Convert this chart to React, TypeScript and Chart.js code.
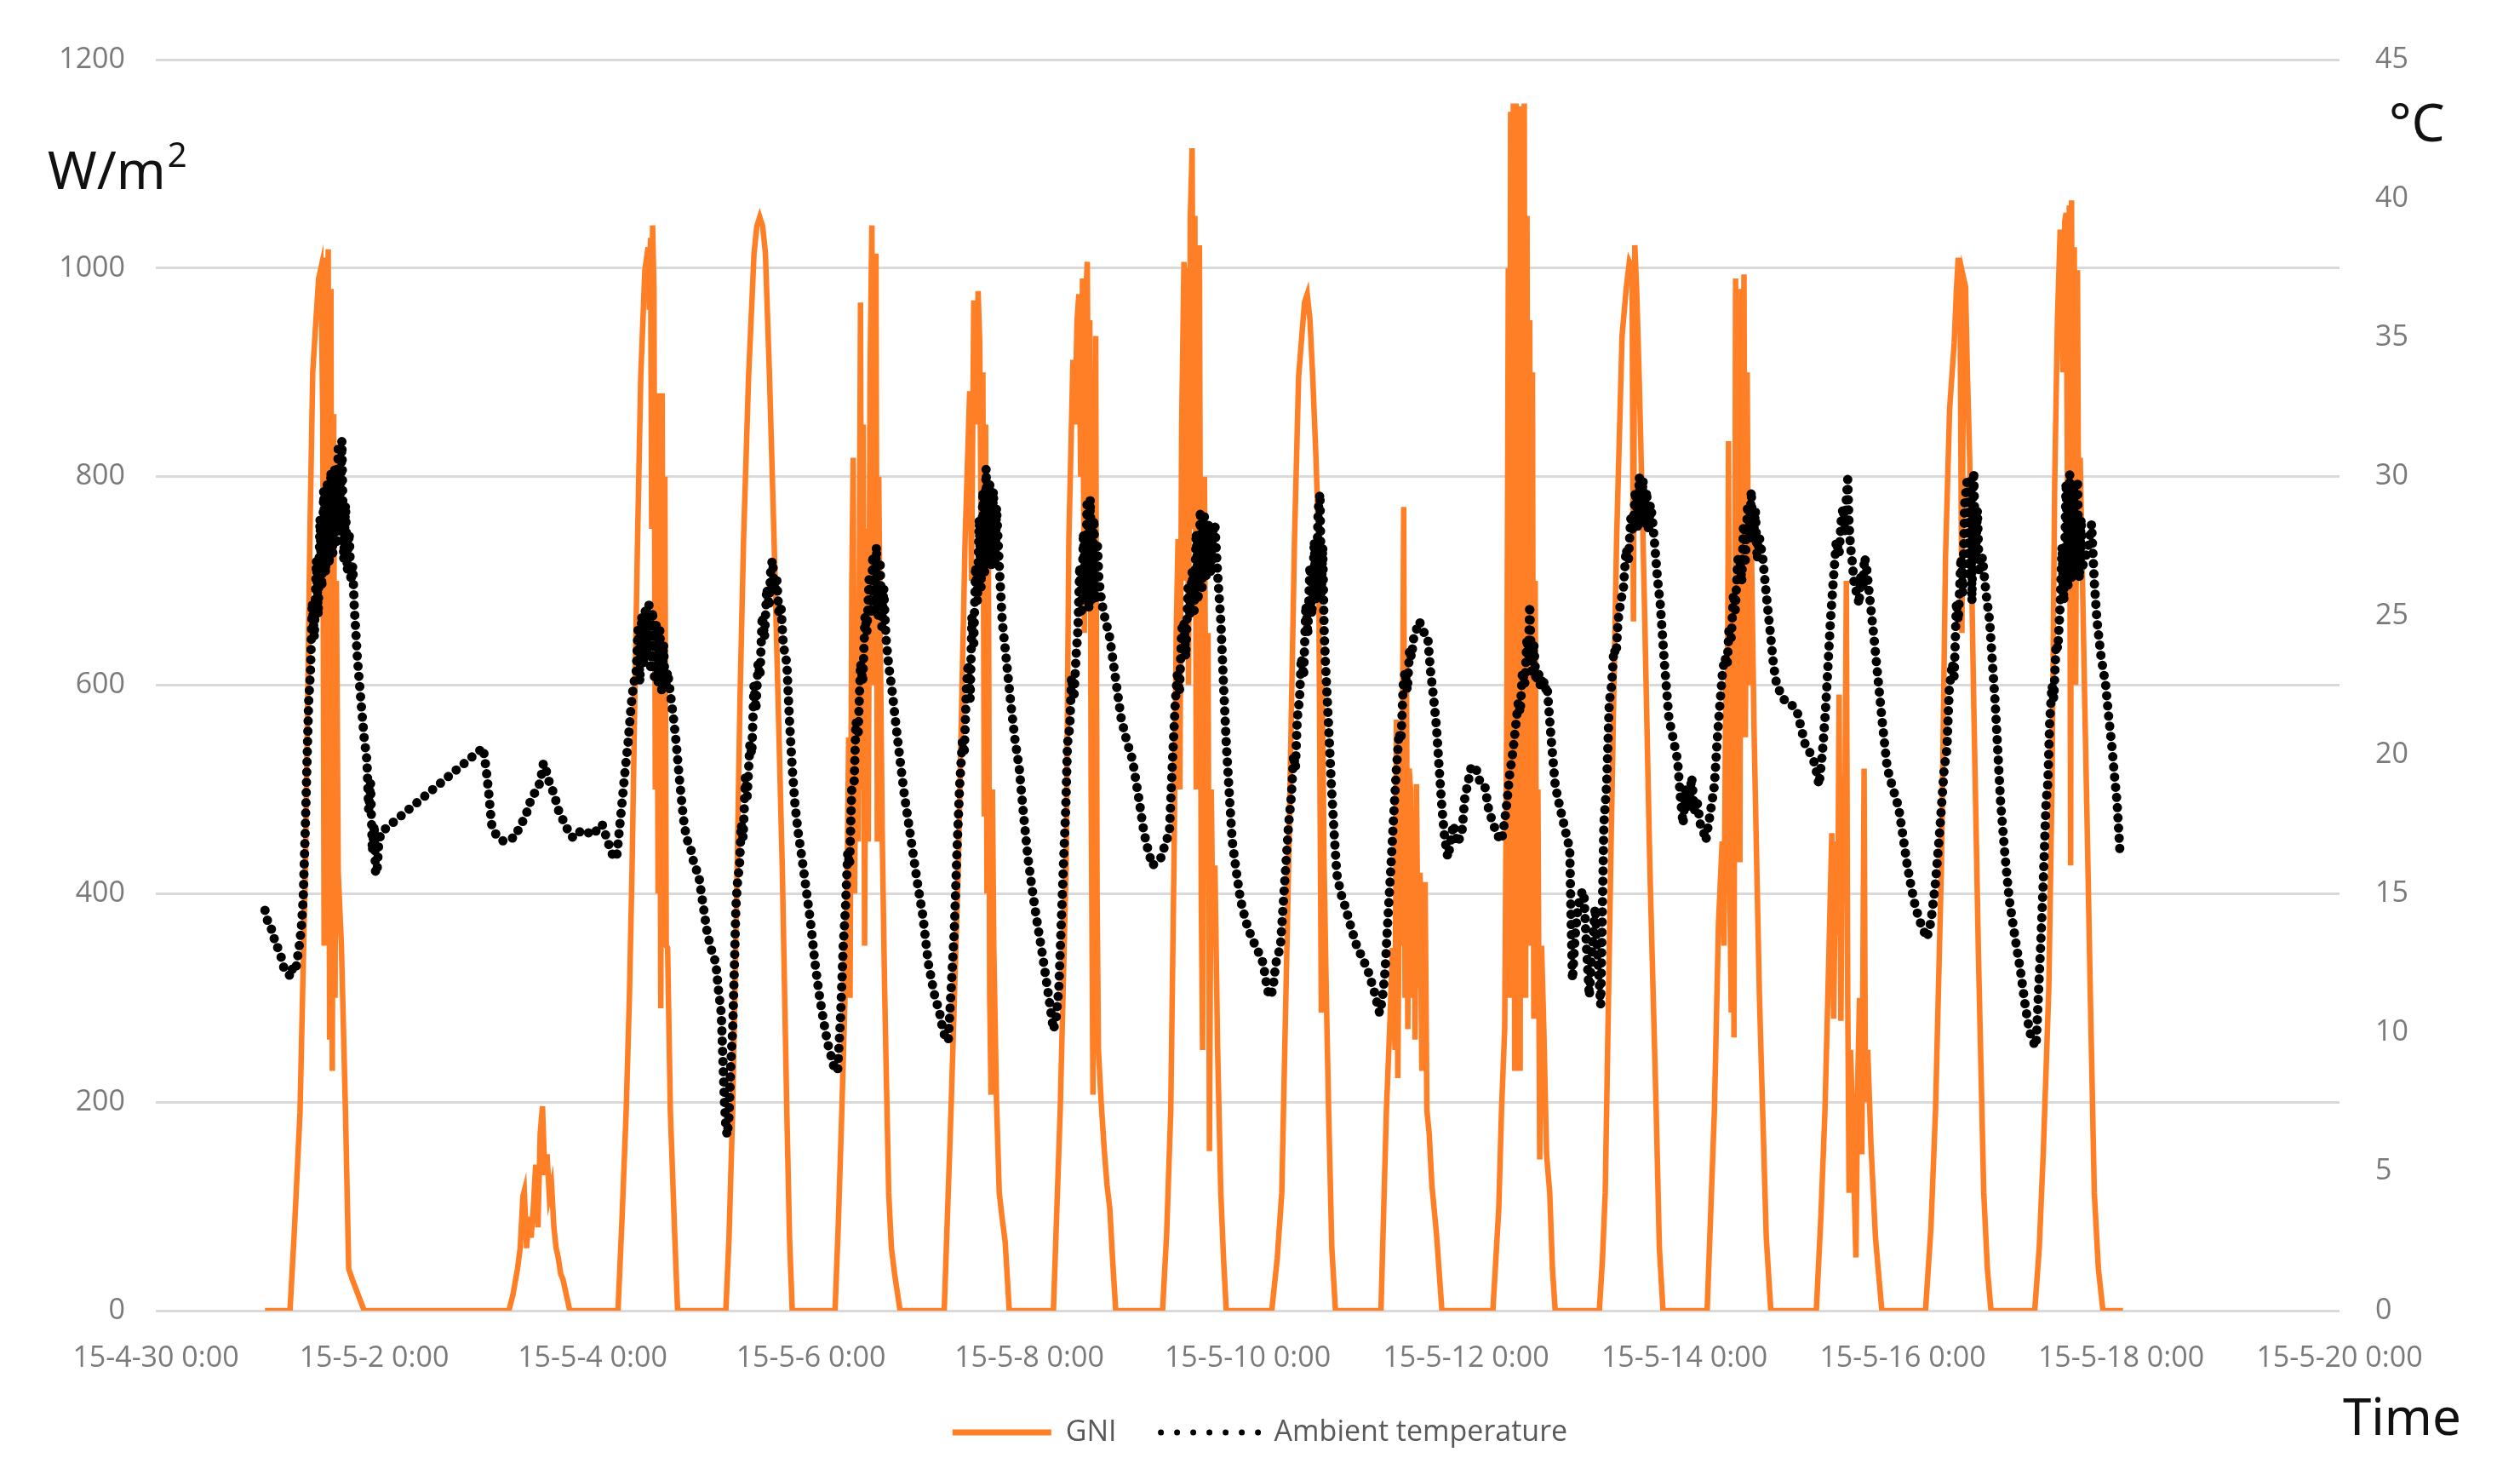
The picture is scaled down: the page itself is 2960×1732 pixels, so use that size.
import React, { useEffect, useRef } from "react";
import { Chart, registerables } from "chart.js";

Chart.register(...registerables);

// x values are hours after 15-4-30 0:00
const xTickLabels = [
  "15-4-30 0:00", "15-5-2 0:00", "15-5-4 0:00", "15-5-6 0:00", "15-5-8 0:00", "15-5-10 0:00",
  "15-5-12 0:00", "15-5-14 0:00", "15-5-16 0:00", "15-5-18 0:00", "15-5-20 0:00",
];

// GNI, W/m2, [hour, value]
const gniMay1 = [[24,0],[29.5,0],[30.5,80],[31.7,190],[32.9,430],[33.9,750],[34.5,900],[35.2,950],[35.8,990],[36.3,1000],[36.7,860],[37.0,350],[37.3,1010],[37.6,560],[37.9,1018],[38.2,260],[38.5,980],[38.8,230],[39.1,860],[39.4,300],[39.7,700],[40.1,420],[40.8,350],[41.7,190],[42.4,40],[43.2,30],[45.8,0]];
const gniMay3 = [[77.6,0],[78.5,15],[79.5,40],[80.1,60],[80.7,110],[81.0,115],[81.5,60],[82.0,90],[82.5,70],[83.0,100],[83.5,140],[84.0,80],[84.5,170],[85.0,196],[85.5,130],[86.0,150],[86.5,110],[87.0,120],[87.5,80],[88.0,60],[88.5,50],[89.0,35],[89.5,30],[90.0,20],[91.0,0]];
const gniMay4 = [[101.6,0],[102.5,90],[103.4,192],[104.1,300],[104.7,427],[105.3,590],[105.9,740],[106.6,896],[107.5,998],[108.2,1020],[108.5,960],[108.75,1029],[109.0,750],[109.2,1041],[109.5,980],[109.8,500],[110.1,880],[110.4,400],[110.7,840],[111.0,290],[111.3,880],[111.6,420],[111.9,800],[112.2,350],[112.5,348],[113.1,192],[114.05,74],[114.7,0]];
const gniMay5 = [[125.3,0],[126.0,70],[126.8,192],[127.8,427],[128.4,583],[129.2,740],[130.3,896],[131.5,1014],[132.1,1040],[132.75,1049],[133.4,1040],[134.0,1014],[134.9,896],[135.9,740],[136.8,583],[137.7,427],[138.7,192],[139.3,70],[139.9,0]];
const gniMay6 = [[149.3,0],[150.0,80],[150.8,192],[151.8,350],[152.3,550],[152.6,300],[153.0,700],[153.3,818],[153.6,400],[154.0,650],[154.4,450],[154.9,967],[155.2,500],[155.5,850],[155.8,350],[156.2,750],[156.6,450],[157.0,900],[157.4,1041],[157.7,600],[158.0,950],[158.3,1014],[158.6,450],[158.9,800],[159.2,661],[159.7,450],[160.2,309],[160.6,220],[161.1,113],[161.7,60],[162.4,35],[163.6,0]];
const gniMay7 = [[173.3,0],[174.8,192],[176.4,427],[177.9,740],[178.9,882],[179.3,700],[179.8,969],[180.3,850],[180.75,978],[181.1,930],[181.5,700],[181.8,900],[182.1,474],[182.4,850],[182.7,400],[183.0,750],[183.3,300],[183.6,207],[183.9,500],[184.2,348],[184.8,200],[185.4,113],[186.0,90],[186.7,66],[187.6,0]];
const gniMay8 = [[197.3,0],[198.8,192],[200.1,427],[200.7,740],[201.6,912],[202.0,850],[202.5,950],[202.9,975],[203.3,800],[203.7,990],[204.1,650],[204.5,980],[204.75,1006],[205.0,800],[205.3,950],[205.6,500],[206.0,207],[206.3,700],[206.6,935],[206.9,400],[207.2,250],[207.8,200],[208.5,153],[209.1,120],[209.7,98],[210.3,50],[211.0,0]];
const gniMay9 = [[221.3,0],[222.2,74],[223.1,192],[223.8,427],[224.3,650],[224.7,740],[225.1,500],[225.5,850],[226.0,1006],[226.3,700],[226.7,1000],[227.0,600],[227.4,1050],[227.8,1115],[228.1,750],[228.4,1050],[228.7,500],[229.1,900],[229.4,1022],[229.8,400],[230.1,250],[230.5,800],[230.9,450],[231.3,650],[231.6,153],[232.0,500],[232.4,350],[232.8,427],[233.4,250],[234.1,113],[234.7,50],[235.3,0]];
const gniMay10 = [[245.3,0],[246.5,50],[247.5,113],[249.0,427],[250.3,740],[251.2,896],[252.0,940],[252.5,967],[253.1,975],[253.7,950],[254.3,896],[255.0,820],[255.6,740],[255.9,500],[256.2,286],[256.4,600],[256.8,427],[257.3,300],[257.8,192],[258.5,60],[259.3,0]];
const gniMay11 = [[269.3,0],[270.5,192],[271.3,280],[271.8,348],[272.4,250],[272.7,567],[273.0,223],[273.4,450],[273.8,350],[274.1,600],[274.3,771],[274.6,300],[274.9,630],[275.2,270],[275.5,520],[275.8,500],[276.1,300],[276.5,480],[276.8,260],[277.1,505],[277.5,310],[277.9,420],[278.3,230],[278.7,300],[279.0,411],[279.4,192],[279.9,170],[280.5,120],[281.5,74],[282.7,0]];
const gniMay12 = [[293.9,0],[295.2,98],[295.8,192],[296.5,270],[297.0,600],[297.3,1000],[297.5,300],[297.8,1150],[298.1,500],[298.4,1158],[298.7,230],[299.0,1158],[299.3,450],[299.6,1150],[299.9,230],[300.2,1155],[300.5,600],[300.8,1158],[301.1,300],[301.4,1050],[301.7,500],[302.0,950],[302.3,350],[302.6,900],[302.9,280],[303.2,700],[303.5,350],[303.8,500],[304.2,145],[304.6,350],[305.1,270],[305.7,150],[306.4,113],[307.0,40],[307.6,0]];
const gniMay13 = [[317.3,0],[318.0,50],[318.6,113],[319.8,427],[321.1,740],[322.3,935],[323.2,980],[323.9,1006],[324.5,1000],[324.8,661],[325.1,1022],[325.5,980],[326.05,896],[326.7,780],[327.3,661],[328.4,427],[329.8,192],[330.5,60],[331.3,0]];
const gniMay14 = [[341.0,0],[342.6,192],[343.5,372],[344.3,450],[344.7,350],[345.1,600],[345.4,500],[345.7,834],[346.0,400],[346.3,286],[346.6,700],[346.9,262],[347.25,990],[347.6,600],[347.9,970],[348.2,430],[348.5,980],[348.8,750],[349.1,994],[349.4,550],[349.8,900],[350.2,600],[350.7,740],[351.3,560],[351.9,427],[352.5,300],[353.2,192],[354.0,70],[355.0,0]];
const gniMay15 = [[365.0,0],[366.0,90],[366.9,192],[367.8,348],[368.4,458],[368.8,280],[369.3,450],[369.7,360],[370.0,591],[370.4,278],[370.8,500],[371.2,420],[371.6,700],[371.9,300],[372.2,113],[372.5,250],[372.9,200],[373.3,120],[373.7,51],[374.1,220],[374.5,300],[375.0,150],[375.5,520],[375.8,200],[376.3,250],[377.0,160],[378.0,70],[379.4,0]];
const gniMay16 = [[389.0,0],[390.2,80],[391.2,192],[392.5,427],[393.4,724],[394.3,865],[395.3,928],[395.8,980],[396.2,1010],[396.6,960],[397.0,650],[397.4,990],[397.8,982],[398.2,900],[398.7,818],[399.6,583],[400.6,348],[401.8,113],[402.6,40],[403.4,0]];
const gniMay17 = [[413.0,0],[414.0,60],[414.9,153],[416.1,309],[416.8,505],[417.4,795],[418.0,950],[418.6,1037],[419.2,900],[419.6,1045],[419.9,1053],[420.3,700],[420.6,1060],[420.9,427],[421.1,1065],[421.4,650],[421.7,1020],[422.0,600],[422.4,998],[422.7,700],[423.0,818],[423.5,700],[424.0,583],[424.6,450],[425.2,309],[426.1,113],[427.0,40],[428.0,0],[432.4,0]];

// Ambient temperature, °C, [hour, value]
const tempMay1 = [[24.0,14.4],[24.6,14.0],[25.2,13.9],[25.8,13.4],[26.4,13.35],[27.0,12.9],[27.6,12.7],[28.2,12.3],[28.9,12.2],[29.6,12.0],[30.2,12.4],[30.8,12.3],[31.6,13.2],[32.0,13.8],[32.4,14.8],[32.8,17.0],[33.2,19.5],[33.6,21.9],[34.0,23.0],[34.4,25.5],[34.85,24.2],[35.3,27.0],[35.7,25.0],[36.1,28.5],[36.5,26.0],[36.9,29.5],[37.3,26.5],[37.7,29.8],[38.1,26.8],[38.5,30.2],[38.9,27.2],[39.3,30.4],[39.7,27.5],[40.1,31.0],[40.5,28.0],[40.9,31.3],[41.3,27.0],[41.7,29.0],[42.1,26.6],[42.5,28.0],[42.9,26.2],[43.3,26.8],[43.6,25.4],[44.3,23.5],[45.1,21.9],[45.8,20.6],[46.4,19.8],[46.8,18.0],[47.2,19.0],[47.6,16.5],[48.0,17.5],[48.3,15.8],[48.6,15.7],[49.0,16.8],[49.5,17.2]];
const tempMay2 = [[71.95,20.25],[72.6,19.5],[73.2,18.6],[73.8,17.5],[74.5,17.2],[75.3,17.0],[76.3,16.9],[77.5,17.0],[78.8,17.0],[80.0,17.4],[81.3,17.8],[82.3,18.3],[83.2,18.6],[84.5,19.0],[85.2,19.7],[85.7,19.5],[86.5,19.0],[87.5,18.6],[88.7,17.9],[90.0,17.5],[91.0,17.1],[91.9,17.0],[93.0,17.2],[94.0,17.3],[95.0,17.2],[96.0,17.1],[97.0,17.3],[98.1,17.5],[99.5,16.8],[100.6,16.3],[101.3,16.3]];
const tempMay4 = [[102.5,18.3],[103.2,19.5],[103.8,20.4],[104.5,21.8],[105.0,22.5],[105.6,23.0],[106.0,24.5],[106.4,22.6],[106.8,25.0],[107.2,23.2],[107.6,25.2],[108.0,23.5],[108.4,25.4],[108.8,23.0],[109.2,25.2],[109.6,22.8],[110.0,24.8],[110.4,22.5],[110.8,24.5],[111.2,22.3],[111.6,24.0],[112.0,22.3],[112.5,23.0],[113.1,22.2],[113.8,21.3],[114.4,20.4],[115.0,19.3],[115.6,18.3],[116.2,17.4],[116.9,16.9],[117.6,16.6],[118.4,16.0],[119.3,15.7],[120.2,14.7],[121.2,13.6],[122.1,13.0],[123.1,12.5],[123.7,11.5],[124.3,10.7],[124.7,8.8],[125.0,7.5],[125.3,6.6],[125.6,6.3]];
const tempMay5 = [[126.0,7.0],[126.4,8.9],[126.8,10.1],[127.2,12.5],[127.5,14.5],[127.9,15.5],[128.3,16.0],[128.7,17.5],[129.1,17.0],[129.6,19.2],[130.0,18.5],[130.6,20.4],[131.0,20.0],[131.5,22.5],[131.9,21.6],[132.4,23.3],[132.8,22.8],[133.3,25.0],[133.8,24.2],[134.3,26.0],[134.8,25.3],[135.2,26.8],[135.6,27.0],[136.0,25.8],[136.5,26.3],[137.0,25.0],[137.4,25.4],[137.9,24.0],[138.3,23.6],[138.7,23.3],[139.3,21.2],[139.9,19.5],[140.5,18.2],[141.2,17.2],[142.1,16.2],[143.0,15.1],[143.9,14.0],[144.9,12.5],[145.8,11.4],[146.8,10.4],[147.7,9.6],[148.7,9.0],[149.3,8.6],[149.9,8.7]];
const tempMay6 = [[150.5,10.5],[151.1,13.1],[151.6,14.5],[152.1,16.5],[152.5,16.0],[153.0,18.9],[153.5,19.0],[153.9,21.2],[154.4,20.8],[154.9,23.3],[155.4,22.6],[155.9,25.0],[156.3,24.4],[156.8,26.3],[157.2,25.0],[157.6,27.2],[158.0,25.2],[158.4,27.5],[158.8,25.0],[159.2,27.0],[159.6,24.6],[160.0,26.0],[160.5,24.2],[161.1,23.2],[161.7,22.5],[162.6,21.2],[163.6,19.8],[164.5,18.6],[165.5,17.5],[166.4,16.5],[167.4,15.4],[168.6,14.2],[169.8,12.5],[171.1,11.4],[172.3,10.7],[173.0,10.1],[173.6,9.8],[174.2,9.7]];
const tempMay7 = [[174.8,11.5],[175.5,13.6],[176.1,16.5],[176.7,18.9],[177.3,20.5],[177.7,20.0],[178.2,22.5],[178.6,23.3],[179.0,22.0],[179.4,25.0],[179.8,24.0],[180.2,26.8],[180.6,25.5],[181.0,28.5],[181.4,26.0],[181.8,29.5],[182.2,26.5],[182.5,30.3],[182.9,27.0],[183.3,29.8],[183.7,26.8],[184.1,29.5],[184.5,27.0],[184.8,28.9],[185.4,26.8],[186.05,24.8],[186.9,23.5],[187.9,21.9],[188.8,20.6],[189.8,19.5],[190.7,17.9],[191.7,16.3],[192.6,15.2],[193.5,14.2],[194.8,12.9],[196.0,11.6],[196.7,10.8],[197.3,10.1]];
const tempMay8 = [[197.9,10.5],[198.5,11.6],[199.0,13.8],[199.5,16.0],[200.0,18.0],[200.4,20.4],[200.9,21.0],[201.3,22.8],[201.8,22.0],[202.3,23.6],[202.7,24.5],[203.1,26.8],[203.5,25.0],[203.9,28.0],[204.3,25.5],[204.7,29.0],[205.1,25.2],[205.4,29.2],[205.8,25.5],[206.2,28.5],[206.6,25.5],[207.0,27.5],[207.3,26.3],[207.9,25.5],[208.5,25.0],[209.1,24.6],[209.7,24.2],[210.9,22.8],[212.2,21.3],[213.4,20.5],[214.7,19.8],[216.0,18.5],[217.2,17.2],[218.2,16.5],[219.1,16.0],[220.0,16.2],[221.0,16.3]];
const tempMay9 = [[221.9,16.8],[222.8,17.2],[223.4,19.5],[224.1,21.9],[224.6,23.0],[225.0,22.2],[225.5,24.5],[226.0,24.8],[226.4,23.5],[226.9,26.0],[227.3,25.0],[227.8,26.6],[228.2,25.0],[228.7,28.0],[229.1,25.5],[229.6,28.8],[230.0,26.0],[230.5,28.6],[230.9,26.3],[231.4,28.3],[231.8,26.5],[232.3,28.0],[232.8,28.3],[233.4,26.5],[234.1,24.8],[234.7,22.5],[235.3,20.4],[236.0,18.5],[236.6,16.9],[237.5,15.8],[238.4,14.8],[239.6,14.0],[240.9,13.4],[242.1,13.0],[243.4,12.5],[244.1,11.8],[244.7,11.3],[245.5,11.5],[246.2,12.5]];
const tempMay10 = [[247.2,13.1],[248.1,15.3],[249.0,17.5],[249.6,18.5],[250.1,20.0],[250.5,19.5],[250.9,21.3],[251.4,22.0],[251.8,23.5],[252.3,22.8],[252.8,25.4],[253.2,24.3],[253.7,26.8],[254.1,25.0],[254.65,27.7],[255.0,25.5],[255.5,28.8],[255.9,29.4],[256.2,25.8],[256.5,27.5],[256.8,24.5],[257.1,23.3],[257.8,21.0],[258.4,18.9],[259.0,17.2],[259.6,15.7],[260.5,15.0],[261.5,14.5],[262.7,13.8],[264.0,13.1],[265.2,12.7],[266.5,12.2],[267.8,11.5],[269.0,10.7]];
const tempMay11 = [[269.6,11.2],[270.2,12.2],[270.8,14.0],[271.5,16.0],[272.1,17.8],[272.7,19.5],[273.3,20.8],[273.7,20.5],[274.2,22.5],[274.6,23.0],[275.1,22.3],[275.6,23.8],[276.0,23.5],[276.5,24.2],[277.1,24.5],[277.7,24.8],[278.3,24.6],[279.0,24.3],[279.6,24.2],[280.2,23.0],[280.9,22.0],[281.5,21.0],[282.1,19.5],[282.7,18.1],[283.3,17.0],[284.0,16.3],[284.6,16.8],[285.2,17.5],[286.1,16.8],[287.1,17.2],[287.7,18.4],[288.3,18.9],[289.2,19.6],[290.2,19.5],[291.1,19.0],[292.1,18.9],[293.0,18.0]];
const tempMay12 = [[294.0,17.5],[294.9,17.1],[295.8,16.9],[296.4,17.5],[297.0,18.3],[297.6,19.3],[298.3,20.1],[298.9,21.0],[299.5,21.9],[299.9,21.5],[300.4,23.0],[300.9,22.5],[301.4,24.2],[301.7,23.5],[302.0,25.4],[302.4,23.0],[302.9,24.0],[303.4,22.6],[303.9,23.0],[304.4,22.4],[304.9,22.8],[305.4,22.3],[305.8,22.5],[306.7,20.6],[307.6,18.9],[308.5,18.2],[309.5,17.5],[310.2,17.0],[310.8,16.6],[311.1,14.0],[311.4,11.9],[312.0,13.5],[312.6,14.5],[313.3,15.0],[313.9,15.1],[314.5,13.0],[315.1,11.3],[315.7,13.0],[316.4,14.5],[317.0,12.5],[317.6,11.0]];
const tempMay13 = [[318.3,17.5],[318.9,18.9],[319.5,21.9],[320.0,22.5],[320.5,23.8],[321.0,23.6],[321.4,24.8],[322.0,25.5],[322.6,26.0],[323.2,27.4],[323.7,27.0],[324.2,28.5],[324.7,28.0],[325.2,29.5],[325.7,28.2],[326.1,30.0],[326.5,28.5],[326.9,29.9],[327.3,28.3],[327.7,29.5],[328.1,28.0],[328.5,29.0],[328.9,28.6],[329.5,27.5],[330.1,26.3],[330.7,25.4],[331.6,23.3],[332.6,21.3],[333.5,20.6],[334.5,19.8],[335.1,18.5],[335.7,17.5],[336.3,18.8],[336.9,18.0],[337.6,19.2],[338.2,18.0],[338.8,18.3],[339.5,17.5],[340.1,17.3],[340.7,16.9]];
const tempMay14 = [[341.6,17.8],[342.6,18.9],[343.2,20.5],[343.8,21.8],[344.4,23.0],[344.9,23.5],[345.4,23.2],[345.8,24.5],[346.3,24.2],[346.8,25.8],[347.2,25.2],[347.7,27.0],[348.2,27.1],[348.6,26.2],[349.0,28.3],[349.4,27.0],[349.9,29.0],[350.3,27.8],[350.7,29.5],[351.1,27.6],[351.6,28.8],[352.0,27.0],[352.5,27.8],[353.2,27.1],[354.1,25.6],[355.0,24.2],[355.6,23.2],[356.3,22.5],[357.2,22.2],[358.2,21.9],[359.5,21.8],[360.7,21.6],[361.6,21.0],[362.5,20.4],[363.5,20.1],[364.4,19.8],[365.0,19.4],[365.6,18.9]];
const tempMay15 = [[366.3,20.0],[366.9,21.3],[367.5,23.0],[368.1,24.8],[368.7,26.2],[369.4,27.7],[370.0,27.2],[370.5,28.5],[370.9,28.9],[371.3,28.0],[371.6,29.2],[371.9,29.9],[372.2,28.3],[372.5,27.5],[372.8,27.1],[373.4,26.0],[374.0,25.8],[374.4,25.4],[374.8,26.5],[375.2,26.0],[375.6,27.1],[376.0,26.8],[376.5,26.0],[376.9,25.4],[377.8,24.0],[378.7,22.5],[379.6,21.0],[380.6,19.5],[381.8,18.8],[383.1,18.1],[384.1,17.0],[385.0,16.0],[385.9,15.2],[386.8,14.5],[388.0,13.9],[389.3,13.4]];
const tempMay16 = [[390.2,14.0],[391.2,15.4],[392.1,17.2],[393.1,19.5],[393.7,20.2],[394.2,22.3],[394.9,23.3],[395.3,22.8],[395.8,25.5],[396.2,24.8],[396.8,27.1],[397.2,25.8],[397.6,29.0],[398.1,29.8],[398.5,26.5],[398.9,30.0],[399.2,25.5],[399.6,30.2],[400.0,27.0],[400.4,28.8],[400.8,26.5],[401.5,27.1],[402.3,25.8],[403.1,24.8],[403.7,23.3],[404.3,21.9],[404.9,20.1],[405.5,18.3],[406.4,16.5],[407.4,14.8],[408.6,13.5],[409.9,12.2],[410.8,11.1],[411.8,10.1],[412.5,9.7],[413.3,9.5]];
const tempMay17 = [[414.3,13.1],[414.9,15.5],[415.5,18.3],[415.9,19.0],[416.3,21.2],[416.8,22.5],[417.2,22.0],[417.7,24.0],[418.1,23.8],[418.6,25.4],[419.0,27.5],[419.4,25.5],[419.9,29.8],[420.3,26.0],[420.7,30.1],[421.1,26.2],[421.5,29.8],[421.9,26.5],[422.4,29.9],[422.8,26.3],[423.2,28.5],[423.6,26.8],[424.2,27.1],[424.8,27.5],[425.5,28.3],[426.1,26.2],[426.7,24.8],[427.6,23.5],[428.6,22.5],[429.3,21.3],[429.9,20.4],[430.5,19.3],[431.1,18.3],[431.7,16.6],[432.0,16.3]];

const gniDays = [gniMay1, gniMay3, gniMay4, gniMay5, gniMay6, gniMay7, gniMay8, gniMay9, gniMay10, gniMay11, gniMay12, gniMay13, gniMay14, gniMay15, gniMay16, gniMay17];
const tempDays = [tempMay1, tempMay2, tempMay4, tempMay5, tempMay6, tempMay7, tempMay8, tempMay9, tempMay10, tempMay11, tempMay12, tempMay13, tempMay14, tempMay15, tempMay16, tempMay17];

const toPoints = (days: number[][][]) => days.flat().map(([x, y]) => ({ x, y }));

const tickFont = { family: '"Open Sans", "Noto Sans", sans-serif', size: 34 };
const tickColor = "#7a7a7a";

const axisTitles = {
  id: "axisTitles",
  afterDraw(chart: Chart) {
    const ctx = chart.ctx;
    ctx.save();
    ctx.fillStyle = "#111";
    ctx.textBaseline = "alphabetic";
    ctx.textAlign = "left";
    ctx.font = '62px "Noto Sans", "Open Sans", sans-serif';
    ctx.fillText("W/m", 56, 222);
    const w = ctx.measureText("W/m").width;
    ctx.font = '40px "Noto Sans", "Open Sans", sans-serif';
    ctx.fillText("2", 56 + w + 2, 196);
    ctx.font = '62px "Noto Sans", "Open Sans", sans-serif';
    ctx.fillText("°C", 2806, 166);
    ctx.font = '60px "Noto Sans", "Open Sans", sans-serif';
    ctx.fillText("Time", 2752, 1685);
    ctx.restore();
  },
};

const App = () => {
  const chartRef = useRef<HTMLCanvasElement>(null);

  useEffect(() => {
    const ctx = chartRef.current?.getContext("2d");
    if (!ctx) return;

    const chart = new Chart(ctx, {
      type: "line",
      data: {
        datasets: [
          {
            label: "GNI",
            data: toPoints(gniDays),
            yAxisID: "y",
            borderColor: "#ff7f27",
            backgroundColor: "#ff7f27",
            borderWidth: 6.5,
            pointRadius: 0,
            tension: 0,
            order: 2,
          },
          {
            label: "Ambient temperature",
            data: toPoints(tempDays),
            yAxisID: "y1",
            borderColor: "#000",
            backgroundColor: "#000",
            borderWidth: 11,
            borderDash: [0, 12],
            borderCapStyle: "round",
            pointRadius: 0,
            tension: 0,
            order: 1,
          },
        ],
      },
      options: {
        animation: false,
        responsive: true,
        maintainAspectRatio: false,
        layout: { padding: { top: 70, left: 0, right: 0, bottom: 23 } },
        plugins: {
          tooltip: { enabled: false },
          legend: {
            position: "bottom",
            labels: {
              usePointStyle: true,
              pointStyle: "line",
              pointStyleWidth: 116,
              boxHeight: 34,
              padding: 52,
              color: "#595959",
              font: { family: '"Open Sans", "Noto Sans", sans-serif', size: 34 },
              sort: (a: any, b: any) => a.datasetIndex - b.datasetIndex,
              generateLabels: (c: any) => {
                const items = Chart.defaults.plugins.legend.labels.generateLabels(c);
                items.forEach((it: any) => {
                  it.lineWidth = 7;
                  if (it.datasetIndex === 1) {
                    it.strokeStyle = "#000";
                    it.lineDash = [0, 19];
                    it.lineCap = "round";
                  } else {
                    it.strokeStyle = "#ff7f27";
                    it.lineCap = "butt";
                  }
                });
                return items;
              },
            },
          },
        },
        scales: {
          x: {
            type: "linear",
            min: 0,
            max: 480,
            grid: { display: false },
            border: { display: false },
            ticks: {
              stepSize: 48,
              autoSkip: false,
              maxRotation: 0,
              padding: 28,
              color: tickColor,
              font: tickFont,
              callback: (v: any) => xTickLabels[Math.round(Number(v) / 48)] ?? "",
            },
            afterFit: (scale: any) => {
              const lg = scale.chart.legend;
              const lh = lg ? lg.height : 0;
              scale.height = scale.chart.height - 1539 - lh - 23;
            },
          },
          y: {
            position: "left",
            min: 0,
            max: 1200,
            grid: { color: "#d9d9d9", lineWidth: 3, drawTicks: false },
            border: { display: false },
            ticks: {
              stepSize: 200,
              padding: 36,
              color: tickColor,
              font: tickFont,
              callback: (v: any) => String(v),
            },
            afterFit: (scale: any) => {
              scale.width = 183;
            },
          },
          y1: {
            position: "right",
            min: 0,
            max: 45,
            grid: { display: false, drawOnChartArea: false },
            border: { display: false },
            ticks: {
              stepSize: 5,
              padding: 34,
              color: tickColor,
              font: tickFont,
              callback: (v: any) => String(v),
            },
            afterFit: (scale: any) => {
              scale.width = 2960 - 2748;
            },
          },
        },
      },
      plugins: [axisTitles],
    });

    return () => {
      chart.destroy();
    };
  }, []);

  return (
    <div style={{ position: "fixed", left: 0, top: 0, width: "100vw", height: "100vh", background: "#fff" }}>
      <canvas ref={chartRef} />
    </div>
  );
};

export default App;
